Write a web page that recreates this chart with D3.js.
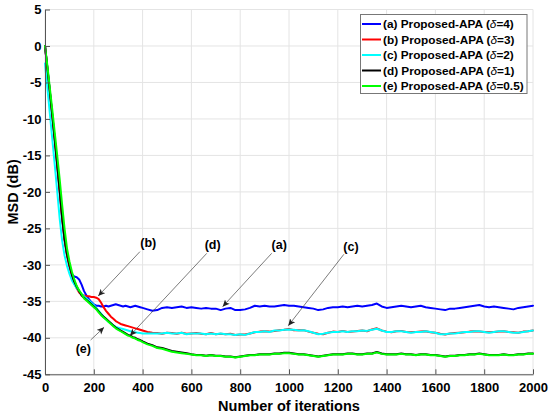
<!DOCTYPE html>
<html><head><meta charset="utf-8">
<script src="https://cdn.jsdelivr.net/npm/d3@7"></script>
<style>
body{margin:0;background:#fff}
svg{display:block}
text{font-family:"Liberation Sans",Arial,Helvetica,sans-serif;font-weight:bold;fill:#000}
</style>
</head><body>
<svg id="chart" width="550" height="416"></svg>
<script>
// ---------- data ----------
const iterations = [0,10,20,30,40,50,60,70,80,90,100,110,120,130,140,150,160,170,180,190,200,210,220,230,240,250,260,270,280,290,300,310,320,330,340,350,360,370,380,390,400,
420,440,460,480,500,520,540,560,580,600,620,640,660,680,700,720,740,760,780,800,820,840,860,880,900,920,940,960,980,1000,
1020,1040,1060,1080,1100,1120,1140,1160,1180,1200,1220,1240,1260,1280,1300,1320,1340,1360,1380,1400,
1420,1440,1460,1480,1500,1520,1540,1560,1580,1600,1620,1640,1660,1680,1700,1720,1740,1760,1780,1800,
1820,1840,1860,1880,1900,1920,1940,1960,1980,2000];

const msdA = [0,-3.1,-6.3,-9.6,-12.9,-16.3,-19.8,-23.5,-26.5,-28.6,-30.2,
-31.3,-31.6,-31.7,-32.0,-32.7,-33.6,-34.2,-34.7,-35.1,-35.4,
-35.6,-35.6,-35.7,-35.7,-35.6,-35.7,-35.6,-35.5,-35.4,-35.5,
-35.6,-35.7,-35.6,-35.7,-35.8,-35.7,-35.6,-35.7,-35.8,-35.9,
-36.1,-36.3,-36.2,-35.9,-35.8,-35.9,-35.8,-35.7,-35.9,-35.8,
-35.9,-36.0,-35.9,-36.0,-36.0,-36.2,-36.0,-35.9,-36.2,-36.2,
-36.1,-35.9,-35.6,-35.7,-35.6,-35.7,-35.7,-35.6,-35.5,-35.6,
-35.6,-35.7,-35.8,-35.9,-36.0,-36.2,-36.1,-35.9,-35.8,-35.8,
-35.7,-35.8,-35.7,-35.6,-35.7,-35.6,-35.5,-35.3,-35.7,-35.9,
-35.8,-35.7,-35.6,-35.7,-35.8,-35.7,-35.6,-35.8,-35.9,-36.0,
-36.1,-36.2,-36.0,-36.0,-35.9,-35.8,-35.7,-35.6,-35.5,-35.7,
-35.8,-35.7,-35.8,-35.9,-36.0,-36.1,-35.9,-35.8,-35.7,-35.6];

const msdB = [0,-3.2,-6.4,-9.7,-13.0,-16.5,-20.0,-23.6,-26.6,-28.7,-30.2,
-31.5,-32.5,-33.2,-33.8,-34.1,-34.2,-34.3,-34.3,-34.4,-34.4,
-34.5,-34.7,-35.2,-35.8,-36.3,-36.7,-37.1,-37.4,-37.7,-37.9,
-38.1,-38.2,-38.3,-38.4,-38.5,-38.6,-38.7,-38.8,-38.9,-39.0,
-39.2,-39.3,-39.35,-39.45,-39.3,-39.35,-39.45,-39.3,-39.45,-39.4,
-39.35,-39.45,-39.5,-39.35,-39.5,-39.45,-39.5,-39.45,-39.6,-39.55,
-39.55,-39.4,-39.25,-39.15,-39.1,-39.15,-39.05,-38.95,-38.9,-38.8,
-38.95,-38.95,-38.95,-39.15,-39.3,-39.45,-39.5,-39.3,-39.15,-39.2,
-39.05,-39.2,-39.15,-39.05,-39.0,-39.1,-38.85,-38.7,-39.0,-39.15,
-39.25,-39.1,-39.05,-39.2,-39.25,-39.2,-39.15,-39.1,-39.25,-39.3,
-39.45,-39.55,-39.4,-39.35,-39.3,-39.25,-39.15,-39.1,-39.15,-39.2,
-39.25,-39.2,-39.15,-39.1,-39.2,-39.25,-39.3,-39.15,-39.1,-39.0];

const msdC = [-2.4,-5.8,-9.3,-12.8,-16.3,-19.9,-23.6,-26.6,-28.7,-30.1,-31.2,
-32.1,-32.7,-33.2,-33.6,-34.0,-34.3,-34.6,-34.9,-35.2,-35.5,
-35.9,-36.3,-36.7,-37.1,-37.5,-37.8,-38.0,-38.3,-38.5,-38.6,
-38.7,-38.8,-38.9,-39.0,-39.1,-39.2,-39.25,-39.3,-39.35,-39.4,
-39.4,-39.4,-39.4,-39.4,-39.3,-39.4,-39.4,-39.3,-39.5,-39.4,
-39.4,-39.4,-39.5,-39.4,-39.5,-39.4,-39.5,-39.5,-39.6,-39.5,
-39.6,-39.4,-39.2,-39.2,-39.1,-39.2,-39.0,-39.0,-38.9,-38.85,
-38.9,-39.0,-38.95,-39.1,-39.3,-39.5,-39.45,-39.3,-39.2,-39.2,
-39.1,-39.2,-39.1,-39.1,-39.0,-39.05,-38.9,-38.75,-39.0,-39.2,
-39.2,-39.1,-39.1,-39.2,-39.3,-39.2,-39.2,-39.1,-39.2,-39.3,
-39.5,-39.5,-39.4,-39.4,-39.3,-39.2,-39.2,-39.1,-39.1,-39.2,
-39.3,-39.2,-39.1,-39.1,-39.2,-39.3,-39.3,-39.2,-39.1,-39.0];

const msdD = [0,-3.1,-6.3,-9.5,-12.8,-16.2,-19.7,-23.4,-26.4,-28.5,-30.0,
-31.3,-32.3,-33.0,-33.6,-34.2,-34.5,-34.8,-35.1,-35.4,-35.7,
-36.0,-36.4,-36.8,-37.1,-37.4,-37.7,-38.0,-38.3,-38.6,-38.8,
-39.0,-39.2,-39.4,-39.6,-39.7,-39.9,-40.0,-40.2,-40.3,-40.5,
-40.8,-41.0,-41.3,-41.4,-41.6,-41.8,-41.9,-42.0,-42.1,-42.25,
-42.35,-42.35,-42.45,-42.35,-42.45,-42.45,-42.55,-42.55,-42.65,-42.55,
-42.45,-42.35,-42.35,-42.25,-42.25,-42.25,-42.15,-42.15,-42.05,-42.05,
-42.15,-42.25,-42.25,-42.35,-42.45,-42.55,-42.45,-42.35,-42.25,-42.25,
-42.25,-42.15,-42.15,-42.25,-42.25,-42.15,-42.15,-41.95,-42.15,-42.25,
-42.25,-42.25,-42.15,-42.25,-42.25,-42.35,-42.25,-42.25,-42.35,-42.35,
-42.45,-42.55,-42.45,-42.45,-42.35,-42.35,-42.25,-42.25,-42.15,-42.25,
-42.35,-42.35,-42.35,-42.25,-42.35,-42.35,-42.25,-42.25,-42.15,-42.15];

const msdE = [0,-2.8,-5.8,-8.8,-11.9,-15.0,-18.2,-21.7,-25.0,-27.7,-29.5,
-30.9,-32.0,-32.9,-33.5,-34.0,-34.6,-34.9,-35.2,-35.5,-35.8,
-36.1,-36.5,-36.9,-37.2,-37.5,-37.8,-38.1,-38.4,-38.7,-38.9,
-39.1,-39.3,-39.5,-39.7,-39.8,-40.0,-40.1,-40.3,-40.4,-40.6,
-40.9,-41.1,-41.4,-41.5,-41.7,-41.9,-42.0,-42.1,-42.2,-42.3,
-42.4,-42.4,-42.5,-42.4,-42.5,-42.5,-42.6,-42.6,-42.7,-42.6,
-42.5,-42.4,-42.4,-42.3,-42.3,-42.3,-42.2,-42.2,-42.1,-42.1,
-42.2,-42.3,-42.3,-42.4,-42.5,-42.6,-42.5,-42.4,-42.3,-42.3,
-42.3,-42.2,-42.2,-42.3,-42.3,-42.2,-42.2,-42.0,-42.2,-42.3,
-42.3,-42.3,-42.2,-42.3,-42.3,-42.4,-42.3,-42.3,-42.4,-42.4,
-42.5,-42.6,-42.5,-42.5,-42.4,-42.4,-42.3,-42.3,-42.2,-42.3,
-42.4,-42.4,-42.4,-42.3,-42.4,-42.4,-42.3,-42.3,-42.2,-42.2];

const seriesLabels = ["(a) Proposed-APA (", "(b) Proposed-APA (", "(c) Proposed-APA (", "(d) Proposed-APA (", "(e) Proposed-APA ("];
const deltaValues = ["4", "3", "2", "1", "0.5"];
const seriesColors = ["#0000ff", "#ff0000", "#00ffff", "#000000", "#00ff00"];
const xTicks = [0,200,400,600,800,1000,1200,1400,1600,1800,2000];
const yTicks = [5,0,-5,-10,-15,-20,-25,-30,-35,-40,-45];

// annotation labels and arrows in data units (iteration, dB)
const annLabels = ["(b)", "(d)", "(a)", "(c)", "(e)"];
const annText  = [[423,-27.14],[687,-27.42],[960,-27.42],[1254,-27.59],[157,-41.67]];
const annStart = [[389,-28.19],[663,-28.42],[929,-28.42],[1225,-28.55],[187,-40.3]];
const annTip   = [[218,-34.27],[348,-39.71],[728,-35.73],[997,-38.34],[242,-38.56]];

// ---------- layout ----------
const svg = d3.select("#chart");
const L = 45, R = 533, T = 9.5, B = 374.3;
const x = d3.scaleLinear().domain([0, 2000]).range([L, R]);
const y = d3.scaleLinear().domain([-45, 5]).range([B, T]);

// grid
const grid = svg.append("g").attr("stroke", "#e4e4e4").attr("stroke-width", 1);
grid.selectAll(".gx").data(xTicks).join("line")
  .attr("x1", d => x(d)).attr("x2", d => x(d)).attr("y1", T).attr("y2", B);
grid.selectAll(".gy").data(yTicks).join("line")
  .attr("x1", L).attr("x2", R).attr("y1", d => y(d)).attr("y2", d => y(d));

// series
const allSeries = [msdA, msdB, msdC, msdD, msdE];
const line = d3.line().x((d, i) => x(iterations[i])).y(d => y(d));
svg.append("g").selectAll("path").data(allSeries).join("path")
  .attr("d", d => line(d))
  .attr("fill", "none")
  .attr("stroke", (d, i) => seriesColors[i])
  .attr("stroke-width", 2)
  .attr("stroke-linejoin", "round")
  .attr("stroke-linecap", "round");

// axes
const fmt = d => String(d);
const xAxis = svg.append("g").attr("transform", `translate(0,${B})`)
  .call(d3.axisBottom(x).tickValues(xTicks).tickFormat(fmt).tickSizeInner(-5).tickSizeOuter(0).tickPadding(8));
const yAxis = svg.append("g").attr("transform", `translate(${L},0)`)
  .call(d3.axisLeft(y).tickValues(yTicks).tickFormat(fmt).tickSizeInner(-5).tickSizeOuter(0).tickPadding(3.5));
[xAxis, yAxis].forEach(a => {
  a.select(".domain").attr("stroke", "#555").attr("stroke-width", 1);
  a.selectAll(".tick line").attr("stroke", "#555");
  a.selectAll(".tick text").attr("font-size", 13).attr("font-weight", "bold")
    .attr("font-family", '"Liberation Sans",Arial,sans-serif').attr("fill", "#000");
});

// axis labels
svg.append("text").attr("x", (L + R) / 2).attr("y", 410.5).attr("text-anchor", "middle")
  .attr("font-size", 14.5).text("Number of iterations");
svg.append("text").attr("transform", `translate(17.5,${(T + B) / 2}) rotate(-90)`)
  .attr("text-anchor", "middle").attr("font-size", 14.5).text("MSD (dB)");

// annotations
const defs = svg.append("defs");
defs.append("marker").attr("id", "ah").attr("viewBox", "0 0 10 10")
  .attr("refX", 10).attr("refY", 5).attr("markerWidth", 7).attr("markerHeight", 7)
  .attr("markerUnits", "userSpaceOnUse").attr("orient", "auto")
  .append("path").attr("d", "M0,0.5 L10,5 L0,9.5 L2.5,5 Z").attr("fill", "#222");
const ann = svg.append("g");
annLabels.forEach((lab, i) => {
  ann.append("line")
    .attr("x1", x(annStart[i][0])).attr("y1", y(annStart[i][1]))
    .attr("x2", x(annTip[i][0])).attr("y2", y(annTip[i][1]))
    .attr("stroke", "#444").attr("stroke-width", 0.7).attr("marker-end", "url(#ah)");
  ann.append("text").attr("x", x(annText[i][0])).attr("y", y(annText[i][1]) + 3.3)
    .attr("text-anchor", "middle").attr("font-size", 12.5).text(lab);
});

// legend
const lg = svg.append("g");
lg.append("rect").attr("x", 360.5).attr("y", 14.5).attr("width", 166.5).attr("height", 79)
  .attr("fill", "#fff").attr("stroke", "#777").attr("stroke-width", 1);
seriesLabels.forEach((lab, i) => {
  const cy = 24 + i * 15.5;
  lg.append("line").attr("x1", 362).attr("x2", 381).attr("y1", cy).attr("y2", cy)
    .attr("stroke", seriesColors[i]).attr("stroke-width", 2);
  const t = lg.append("text").attr("x", 383).attr("y", cy + 4.2).attr("font-size", 11.8);
  t.append("tspan").text(lab);
  t.append("tspan").attr("font-style", "italic").attr("font-weight", "normal").text("δ");
  t.append("tspan").text("=" + deltaValues[i] + ")");
});
</script>
</body></html>
